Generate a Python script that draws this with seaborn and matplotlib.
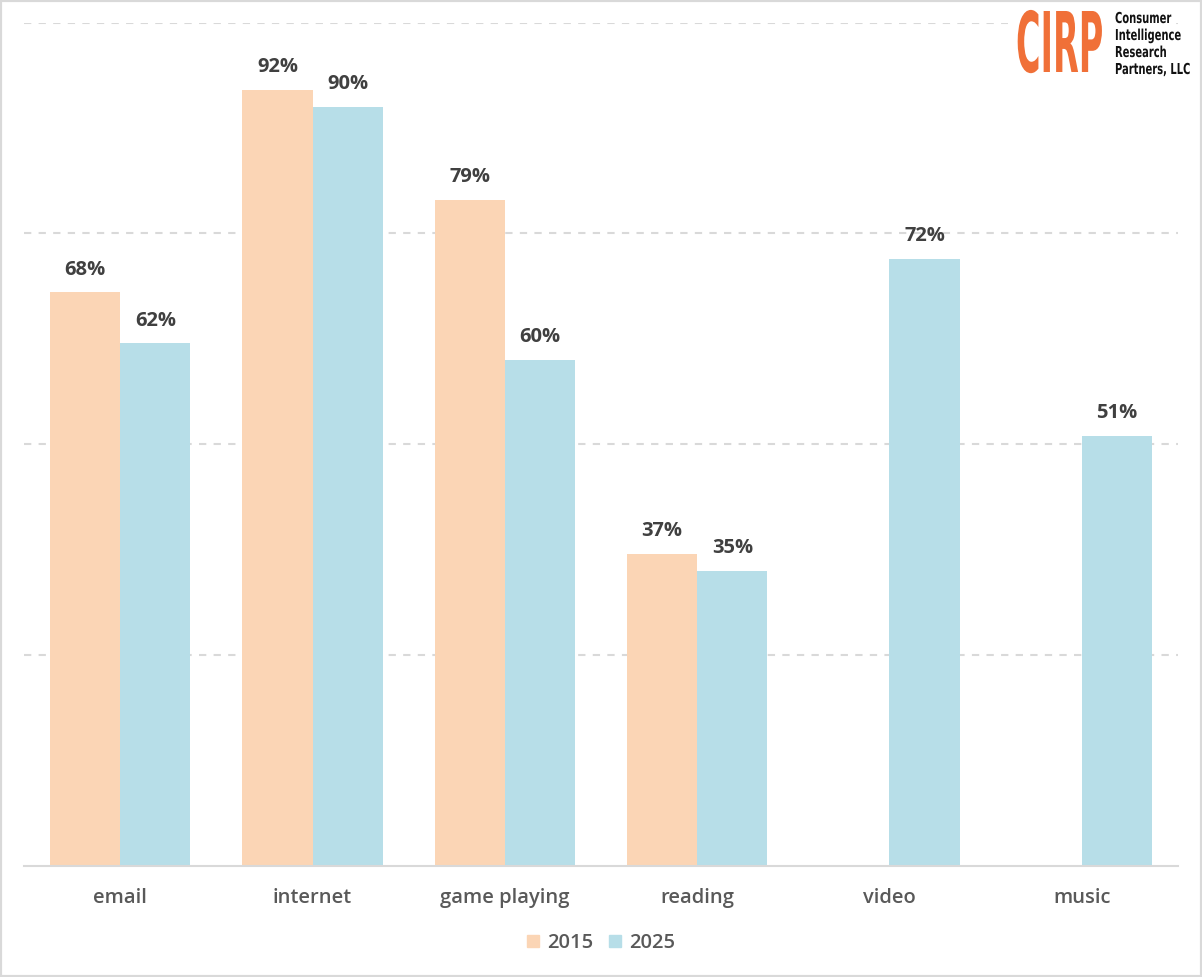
import matplotlib
matplotlib.use('Agg')
import matplotlib.pyplot as plt
import matplotlib.patches as mpatches
from matplotlib.textpath import TextPath
from matplotlib.font_manager import FontProperties
from matplotlib.transforms import Affine2D
import pandas as pd
import numpy as np
import seaborn as sns

# values
activities = ['email', 'internet', 'game playing', 'reading', 'video', 'music']
share_2015 = [0.68, 0.92, 0.79, 0.37, np.nan, np.nan]
share_2025 = [0.62, 0.90, 0.60, 0.35, 0.72, 0.51]
years = ['2015', '2025']
colors = {'2015': '#FBD5B5', '2025': '#B7DEE8'}

df = pd.DataFrame({
    'activity': activities * 2,
    'year': ['2015'] * len(activities) + ['2025'] * len(activities),
    'share': share_2015 + share_2025,
})

W, H = 1202, 977
sns.set_style('white')
plt.rcParams['font.family'] = ['Open Sans', 'DejaVu Sans']

fig = plt.figure(figsize=(W / 100, H / 100), dpi=100)
ax = fig.add_axes([24 / W, 111 / H, 1154 / W, 843.5 / H])

sns.barplot(data=df, x='activity', y='share', hue='year', order=activities,
            hue_order=years, palette=colors, width=0.73, gap=0,
            saturation=1, ax=ax, legend=False, linewidth=0,
            err_kws={'linewidth': 0})

ax.set_xlim(-0.5, len(activities) - 0.5)
ax.set_ylim(0, 1.0)
ax.set_yticks([0.25, 0.5, 0.75, 1.0])
ax.yaxis.grid(True, color='#D9D9D9', linestyle=(0, (3.5, 3.5)), linewidth=1.5)
ax.set_axisbelow(True)
ax.tick_params(axis='y', left=False, labelleft=False)
ax.tick_params(axis='x', bottom=False, labelsize=14.5, colors='#595959', pad=12)
for t in ax.get_xticklabels():
    t.set_fontweight('semibold')
ax.set_xlabel('')
ax.set_ylabel('')
for s in ['top', 'right', 'left']:
    ax.spines[s].set_visible(False)
ax.spines['bottom'].set_color('#D9D9D9')
ax.spines['bottom'].set_linewidth(1.5)

for c in ax.containers:
    labels = []
    for b in c:
        h = b.get_height()
        labels.append('' if np.isnan(h) or h == 0 else f'{h * 100:.0f}%')
    ax.bar_label(c, labels=labels, padding=9, fontsize=14.5, fontweight='bold',
                 color='#404040')

handles = [mpatches.Patch(color=colors[y], label=y) for y in years]
fig.legend(handles=handles, loc='center', bbox_to_anchor=(0.5, 1 - 943 / H),
           ncol=2, frameon=False, handlelength=0.6,
           handleheight=0.6, handletextpad=0.4, columnspacing=0.8,
           labelcolor='#595959', prop={'weight': 'semibold', 'size': 14.5})


def narrow_text(s, x, y_base, cap, xscale, color):
    # condensed text drawn as a path, x / baseline / cap height in pixels
    fp = FontProperties(family='DejaVu Sans', weight='bold')
    tp = TextPath((0, 0), s, size=100, prop=fp)
    k = cap / 72.9  # DejaVu cap height at size 100
    tr = Affine2D().scale(k * xscale, k).translate(x, H - y_base).scale(1 / W, 1 / H)
    fig.patches.append(mpatches.PathPatch(tr.transform_path(tp), transform=fig.transFigure,
                                          facecolor=color, edgecolor='none', zorder=6))


# logo block
fig.patches.append(mpatches.Rectangle((1008 / W, 1 - 85 / H), 168 / W, 78 / H,
                                      transform=fig.transFigure, facecolor='white',
                                      edgecolor='none', zorder=5))
narrow_text('CIRP', 1016, 72, 61, 0.40, '#F07038')
logo_lines = ['Consumer', 'Intelligence', 'Research', 'Partners, LLC']
for i, line in enumerate(logo_lines):
    narrow_text(line, 1115, 23 + 17 * i, 11, 0.66, '#111111')

# figure border
fig.patches.append(mpatches.Rectangle((0, 0), 1, 1, transform=fig.transFigure,
                                      fill=False, edgecolor='#D9D9D9', linewidth=3))

fig.savefig('out.png', dpi=100)
